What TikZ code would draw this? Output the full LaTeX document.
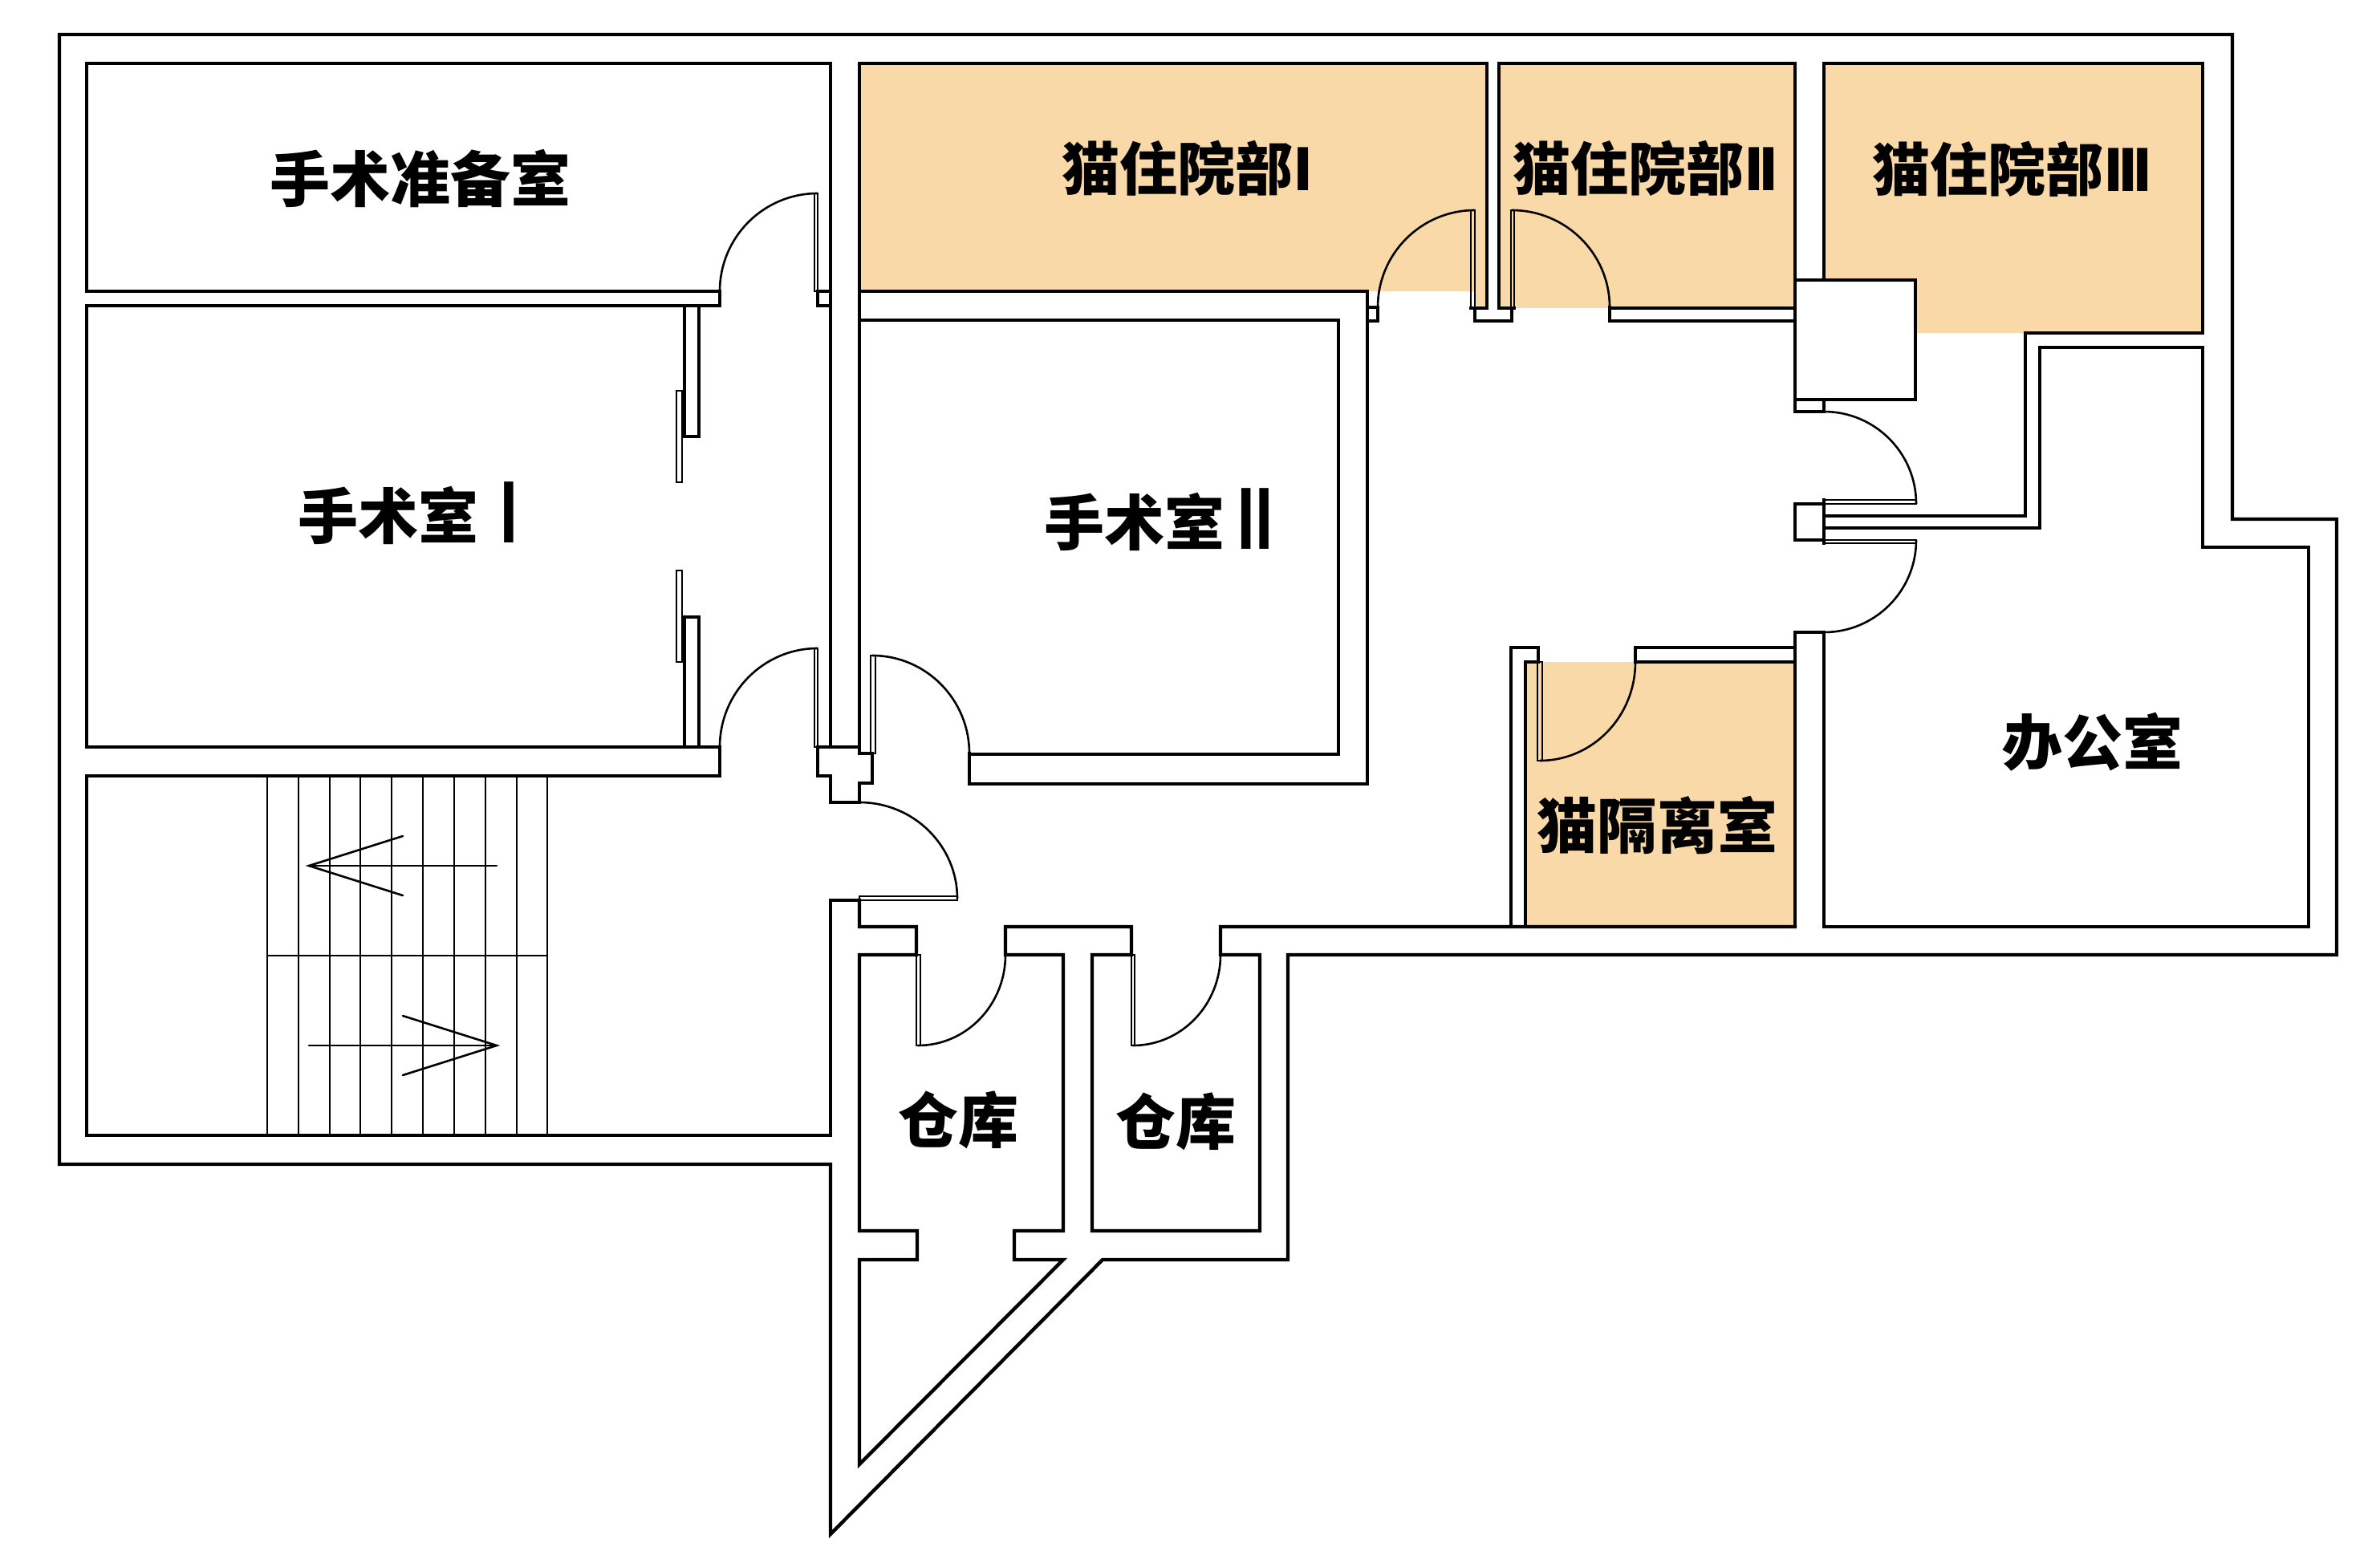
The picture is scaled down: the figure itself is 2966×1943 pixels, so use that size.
\documentclass[tikz,border=0pt]{standalone}
\usepackage{fontspec}
\newfontfamily\cjk{Noto Sans CJK SC}
\definecolor{catfill}{HTML}{F9D9A8}
\newcommand{\tallnum}[1]{\raisebox{-2.5pt}{\scalebox{0.85}[1.35]{#1}}}
\tikzset{
  wall/.style={draw=black,line width=2.2pt,line cap=rect,line join=miter},
  swing/.style={draw=black,line width=1.3pt},
  leaf/.style={draw=black,line width=1pt,line join=miter},
  stair/.style={draw=black,line width=1.1pt},
  stairarrow/.style={draw=black,line width=1.3pt,line cap=round,line join=miter},
  room/.style={font=\cjk\bfseries\fontsize{37.5pt}{40pt}\selectfont,inner sep=0pt,text=black,anchor=center},
  wardroom/.style={font=\cjk\bfseries\fontsize{36pt}{40pt}\selectfont,inner sep=0pt,text=black,anchor=center},
  roomfill/.style={fill=catfill,draw=none}
}
\begin{document}
\begin{tikzpicture}[x=0.5pt,y=-0.5pt]
\useasboundingbox (0,0) rectangle (2966,1943);
% coloured rooms
\fill[roomfill] (1071,79) rectangle (1853,363);
\fill[roomfill] (1838,363) rectangle (1853,383);
\fill[roomfill] (1868,79) rectangle (2237,384);
\fill[roomfill] (2273,79) rectangle (2745,415);
\fill[roomfill] (1901,825) rectangle (2237,1156);
% outer wall
\draw[wall] (1035,1451)--(74,1451)--(74,43)--(2782,43)--(2782,647)--(2912,647)--(2912,1190)--(1605,1190)--(1605,1570)--(1374,1570)--(1035,1912)--cycle;
% surgery preparation room
\draw[wall] (897,363)--(108,363)--(108,79)--(1035,79)--(1035,931);
\draw[wall] (897,363)--(897,381)--(108,381)--(108,931)--(897,931)--(897,967)--(108,967)--(108,1415)--(1035,1415)--(1035,1122);
\draw[wall] (1019,363)--(1035,363);
\draw[wall] (1019,363)--(1019,381)--(1035,381);
% sliding door walls
\draw[wall] (853,381)--(853,544)--(871,544)--(871,381);
\draw[wall] (853,931)--(853,769)--(871,769)--(871,931);
\draw[leaf] (843,487) rectangle (850,601);
\draw[leaf] (843,711) rectangle (850,825);
% central junction
\draw[wall] (1019,931)--(1071,931);
\draw[wall] (1019,931)--(1019,967)--(1035,967)--(1035,1000)--(1071,1000)--(1071,976)--(1087,976)--(1087,939)--(1071,939);
\draw[wall] (1071,79)--(1071,939);
\draw[wall] (1035,1122)--(1071,1122);
\draw[wall] (1071,1122)--(1071,1155)--(1142,1155)--(1142,1190)--(1071,1190)--(1071,1534)--(1143,1534)--(1143,1570)--(1071,1570)--(1071,1825)--(1325,1570)--(1264,1570)--(1264,1534)--(1325,1534)--(1325,1190)--(1253,1190)--(1253,1155)--(1410,1155)--(1410,1190)--(1361,1190)--(1361,1534)--(1570,1534)--(1570,1190)--(1521,1190)--(1521,1155)--(2237,1155);
% surgery room II
\draw[wall] (1071,363)--(1704,363)--(1704,977)--(1208,977)--(1208,939);
\draw[wall] (1071,399)--(1668,399)--(1668,940)--(1208,940);
% cat ward I / II
\draw[wall] (1071,79)--(1853,79)--(1853,384)--(1833,384);
\draw[wall] (1704,383)--(1717,383)--(1717,400)--(1704,400);
\draw[wall] (1887,384)--(1868,384)--(1868,79)--(2237,79)--(2237,513)--(2273,513)--(2273,498);
\draw[wall] (1838,384)--(1838,400)--(1884,400)--(1884,384);
\draw[wall] (2006,383)--(2006,400)--(2237,400);
\draw[wall] (2006,384)--(2237,384);
% shaft box
\draw[wall,fill=white] (2237,349) rectangle (2387,498);
\draw[wall] (2273,349)--(2273,79)--(2745,79)--(2745,415)--(2524,415)--(2524,643)--(2273,643);
\draw[wall] (2273,658)--(2542,658)--(2542,433)--(2745,433)--(2745,682)--(2877,682)--(2877,1155)--(2273,1155)--(2273,788)--(2237,788)--(2237,1155);
\draw[wall] (2273,623)--(2273,677);
\draw[wall] (2273,628)--(2237,628)--(2237,673)--(2273,673);
% isolation room
\draw[wall] (1883,1155)--(1883,807)--(1917,807)--(1917,825)--(1901,825)--(1901,1155);
\draw[wall] (2038,825)--(2038,807)--(2237,807);
\draw[wall] (2038,825)--(2237,825);
\draw[wall] (1901,1155)--(2237,1155);
% door leaves
\draw[leaf] (1015,241) rectangle (1019,363);
\draw[leaf] (1015,808) rectangle (1019,931);
\draw[leaf] (1085,817) rectangle (1091,939);
\draw[leaf] (1071,1117) rectangle (1193,1122);
\draw[leaf] (1142,1190) rectangle (1147,1303);
\draw[leaf] (1410,1190) rectangle (1414,1303);
\draw[leaf] (1833,262) rectangle (1838,384);
\draw[leaf] (1883,262) rectangle (1887,384);
\draw[leaf] (2273,623) rectangle (2388,628);
\draw[leaf] (2273,673) rectangle (2388,677);
\draw[leaf] (1916,825) rectangle (1922,948);
% door swings
\draw[swing] (897,363) arc[start angle=180,end angle=90,x radius=61pt,y radius=61pt];
\draw[swing] (897,931) arc[start angle=180,end angle=90,x radius=61pt,y radius=61.5pt];
\draw[swing] (1087,817) arc[start angle=90,end angle=0,x radius=60.5pt,y radius=61pt];
\draw[swing] (1071,1000) arc[start angle=90,end angle=0,x radius=61pt,y radius=60pt];
\draw[swing] (1144,1303) arc[start angle=270,end angle=360,x radius=54.5pt,y radius=56.5pt];
\draw[swing] (1412,1303) arc[start angle=270,end angle=360,x radius=54.5pt,y radius=56.5pt];
\draw[swing] (1717,383) arc[start angle=180,end angle=90,x radius=60.5pt,y radius=60.5pt];
\draw[swing] (1884,262) arc[start angle=90,end angle=0,x radius=61pt,y radius=60.5pt];
\draw[swing] (2273,513) arc[start angle=90,end angle=0,x radius=57.5pt,y radius=57.5pt];
\draw[swing] (2388,673) arc[start angle=0,end angle=-90,x radius=57.5pt,y radius=57.5pt];
\draw[swing] (1919,948) arc[start angle=270,end angle=360,x radius=59.5pt,y radius=61.5pt];
% stairs
\foreach \sx in {333,372,411,449,488,527,566,605,644,682}
  \draw[stair] (\sx,967)--(\sx,1415);
\draw[stair] (333,1191)--(682,1191);
\draw[stairarrow] (619,1079)--(385,1079);
\draw[stairarrow] (502,1042)--(385,1079)--(502,1116);
\draw[stairarrow] (385,1303)--(619,1303);
\draw[stairarrow] (502,1266)--(619,1303)--(502,1340);
% labels
\node[room] (prep) at (524,222) {手术准备室};
\node[wardroom] (ward1) at (1480,210) {猫住院部I};
\node[wardroom] (ward2) at (2051,210) {猫住院部I\kern-3.5pt I};
\node[wardroom] (ward3) at (2508,211) {猫住院部I\kern-3.5pt I\kern-3.5pt I};
\node[room] (op1) at (519,640) {手术室 \hspace{-5.5pt}\tallnum{Ⅰ}};
\node[room] (op2) at (1449,648) {手术室 \hspace{-5.5pt}\tallnum{Ⅱ}};
\node[room] (office) at (2608,925) {办公室};
\node[room] (isol) at (2065,1028) {猫隔离室};
\node[room] (store1) at (1194,1396) {仓库};
\node[room] (store2) at (1465,1398) {仓库};
\end{tikzpicture}
\end{document}
